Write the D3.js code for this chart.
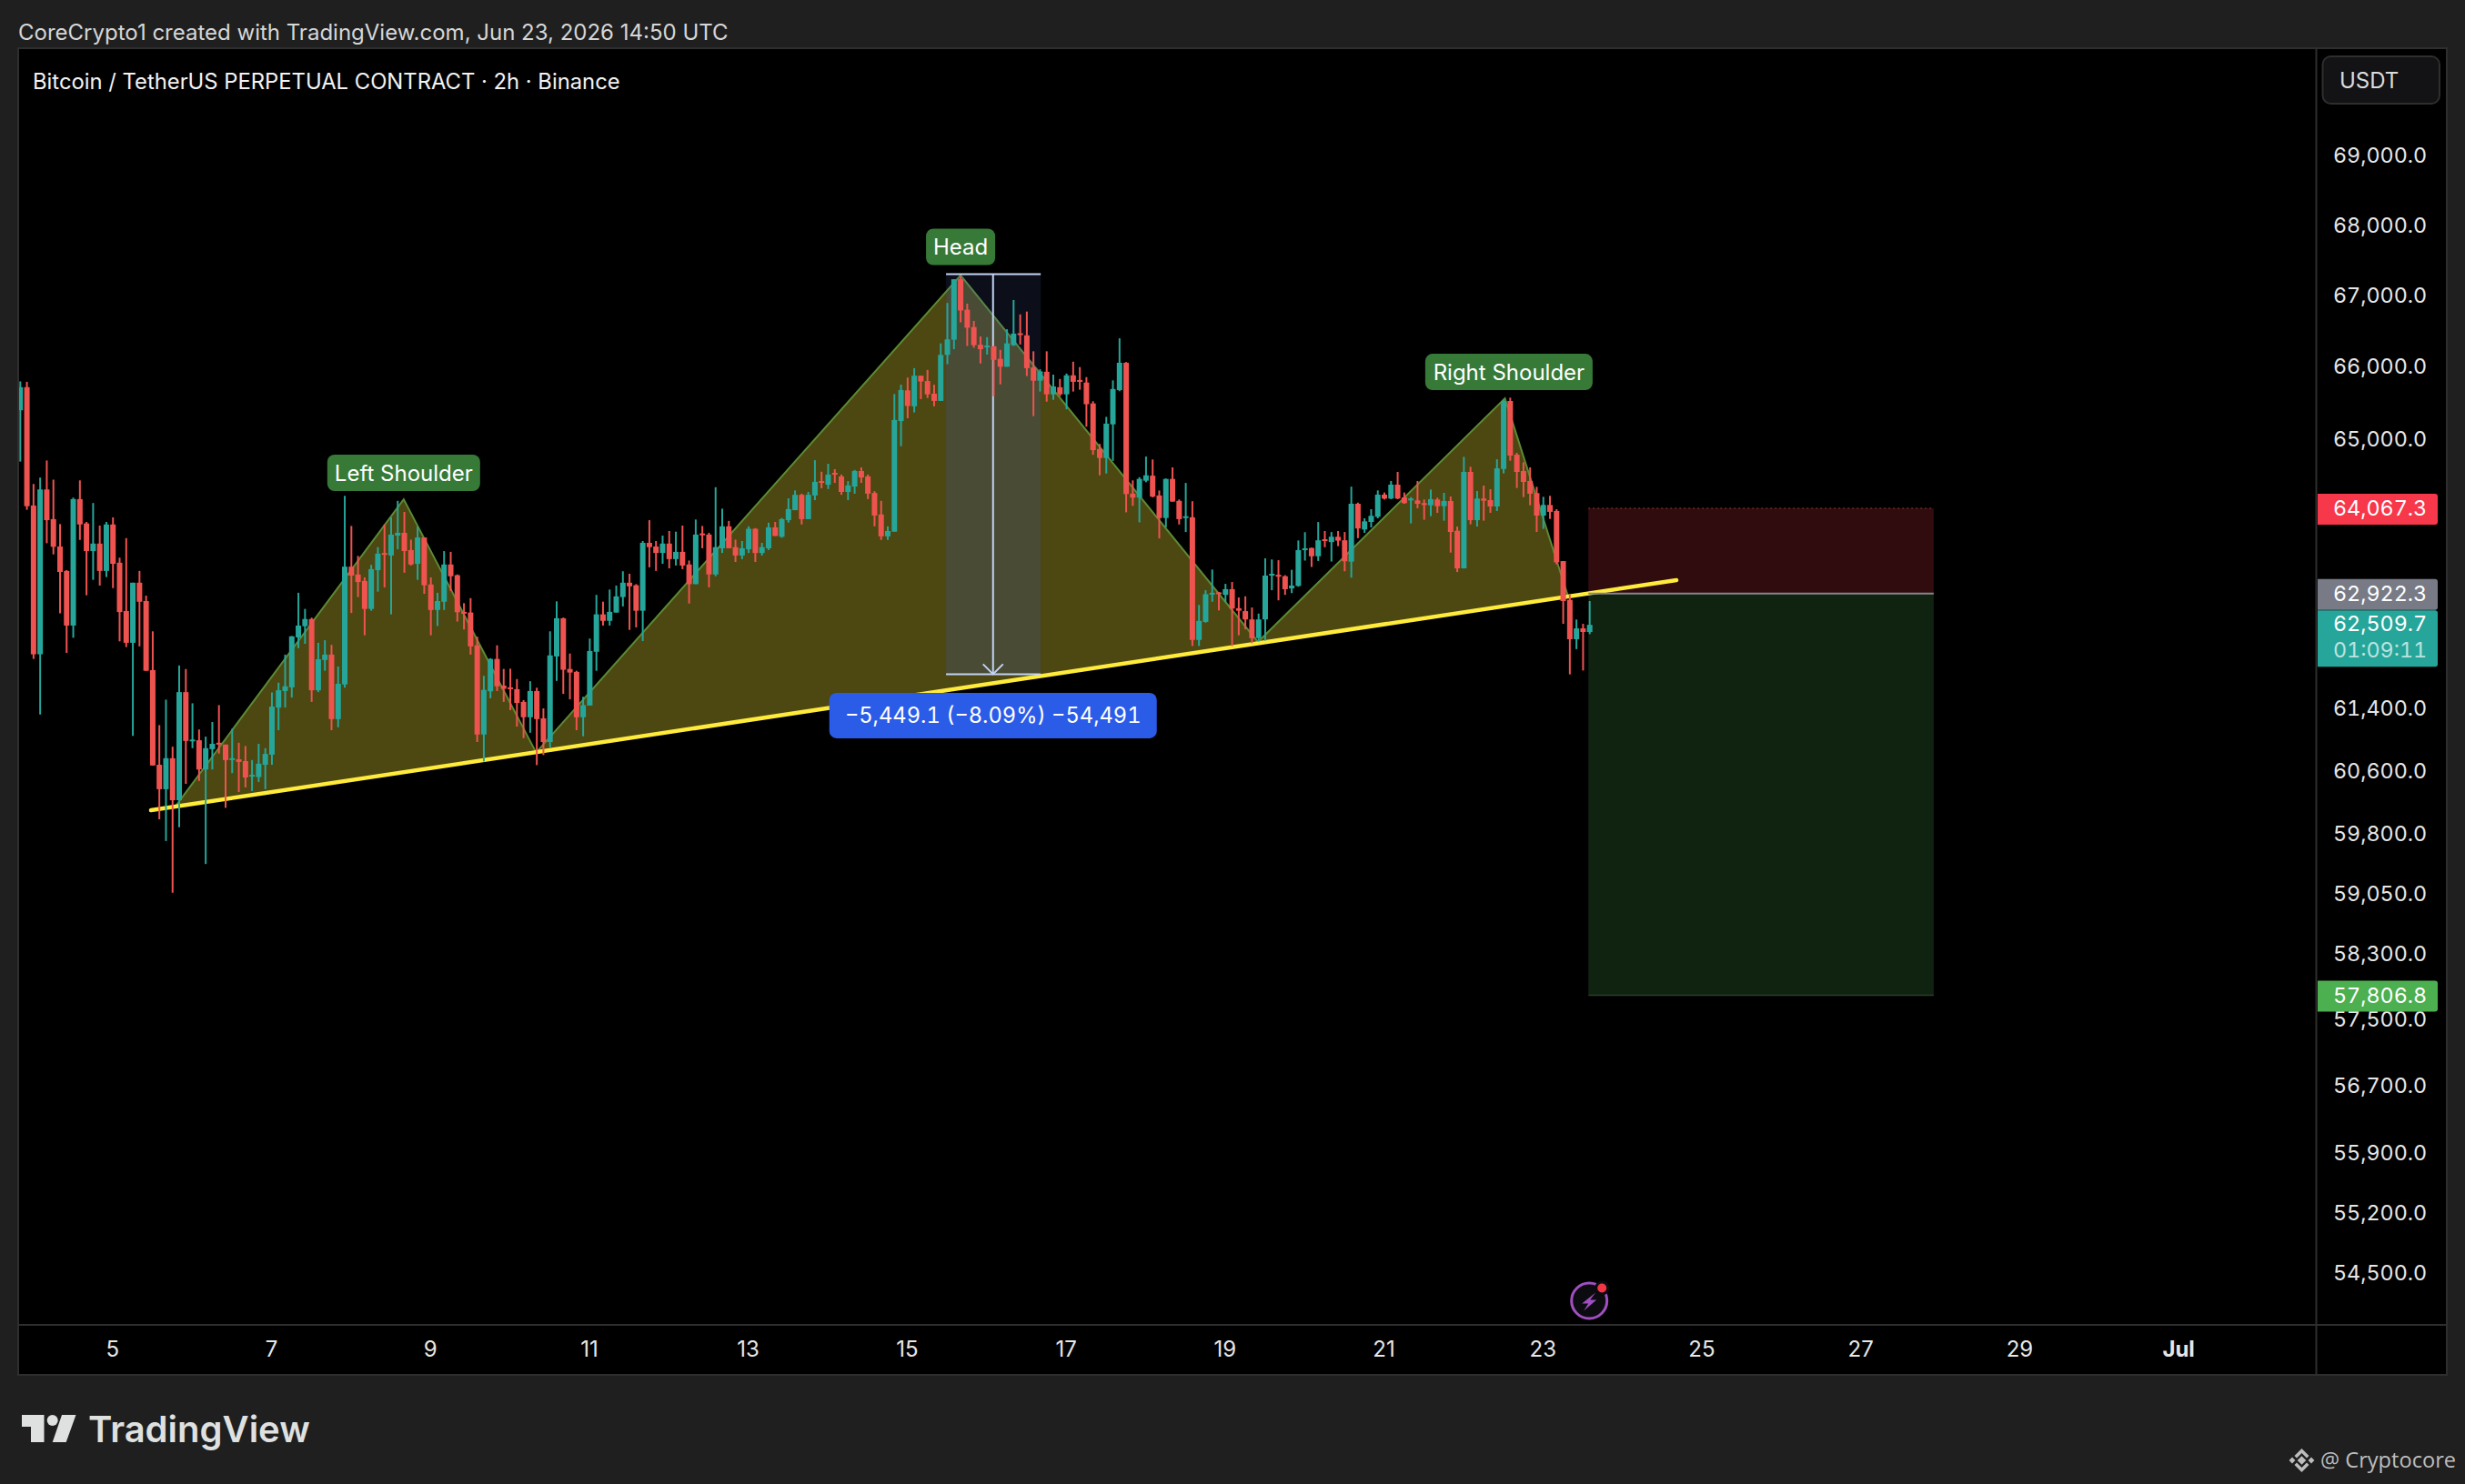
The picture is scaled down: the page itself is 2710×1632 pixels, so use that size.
<!DOCTYPE html>
<html>
<head>
<meta charset="utf-8">
<title>BTCUSDT 2h</title>
<script src="https://cdn.jsdelivr.net/npm/d3@7/dist/d3.min.js"></script>
<style>
  html, body { margin: 0; padding: 0; background: #1f1f1f; }
  svg { display: block; }
  text { font-family: Inter, "Liberation Sans", sans-serif; }
  .tab { font-variant-numeric: tabular-nums; }
  .tab text { font-variant-numeric: tabular-nums; }
</style>
</head>
<body>
<svg id="chart" width="2710" height="1632"></svg>
<script>
// 2h candles, bar 0 = Jun 3 20:00 UTC, bar 237 = Jun 23 14:00 UTC
const opens = [
  65406,65726,64104,62122,64322,63920,63552,63225,62500,64191,
  63862,63490,63591,63225,63848,63335,62692,62273,63068,62824,
  61915,60690,60378,60774,60237,61628,60996,61005,60630,60890,
  60973,60950,60751,60760,60737,60542,60533,60690,60820,61427,
  61642,61690,62344,62491,62586,61652,62047,62118,61278,61728,
  63282,63177,63092,62720,63235,63465,63431,63698,63736,63504,
  63320,63673,63044,62706,62815,63311,63168,62681,62672,62240,
  61079,61638,62061,61713,61690,61666,61501,61302,61642,61288,
  60982,62094,62596,61930,61892,61302,61454,62155,62648,62562,
  62672,62877,63068,63034,62696,63601,63552,63465,63591,63383,
  63480,63311,63049,63727,63712,63178,63528,63823,63543,63431,
  63514,63790,63465,63528,63809,63683,63906,64041,64249,63920,
  64240,64435,64386,64548,64499,64288,64361,64573,64499,64274,
  63983,63688,63751,65257,65681,65461,65885,65810,65635,65535,
  66175,66387,67240,66809,66565,66316,66290,66295,66120,66010,
  66311,66478,66448,66000,65815,65940,65626,65725,65626,65890,
  65825,65790,65500,64873,64750,65212,65685,66065,64264,64211,
  64440,64509,64240,63935,64465,64167,63945,63945,62311,62548,
  62920,62939,62906,62982,62729,62691,62581,62334,62581,63173,
  63173,63154,62992,63025,63503,63532,63421,63649,63611,63683,
  63635,63349,64128,63780,63882,63952,64251,64198,64387,64214,
  64177,64173,64136,64107,64185,64095,64165,63763,63259,64560,
  63907,64198,64177,64091,64600,65534,64795,64572,64437,64272,
  63968,64112,64030,63356,62840,62320,62463,62415
];
const highs = [
  65806,65800,64396,64484,64716,64455,63853,63235,64211,64445,
  63882,64138,63833,63882,63944,63402,63664,63068,63225,62896,
  62424,61200,61530,60922,61976,61929,61483,61144,61052,61241,
  61459,60950,61153,60973,60931,60751,60959,60903,61624,61751,
  62118,62362,62934,62720,62605,62273,62306,62245,61962,64235,
  63828,63426,63139,63306,63543,63848,63944,64167,64017,63644,
  63823,63673,63139,62934,63490,63480,63178,62796,62863,62353,
  61840,62071,62240,61930,61934,61798,61525,61770,61685,61417,
  62424,62820,62605,62132,61906,61567,62329,62906,62816,62977,
  63030,63220,63187,63049,63625,63906,63625,63698,63760,63751,
  63833,63364,63915,63828,63736,64352,64061,63896,63644,63625,
  63823,63799,63601,63872,63882,63935,64201,64308,64264,64288,
  64720,64563,64671,64597,64524,64435,64587,64622,64524,64298,
  64167,63823,65631,65760,65859,65990,65885,65965,65760,66336,
  66905,67240,67281,66895,66651,66433,66423,66300,66245,66534,
  66946,66743,66783,66225,65975,66225,65900,65840,65915,66080,
  66005,65865,65530,64942,65315,65820,66407,66075,64445,64489,
  64770,64730,64307,64470,64622,64186,64410,64162,62773,62968,
  63244,62944,63053,63077,62872,62887,62739,62658,63393,63378,
  63368,63168,63240,63633,63744,63537,63881,63760,63746,63760,
  63746,64360,64143,63931,64054,64309,64280,64437,64560,64280,
  64218,64437,64185,64321,64210,64276,64226,63820,64766,64630,
  64300,64375,64325,64733,65555,65580,64820,64692,64622,64358,
  64222,64235,64054,63356,62908,62580,62523,62824
];
const lows = [
  64701,64046,62061,61339,63596,63446,62662,62141,62339,63640,
  62901,63106,63030,63144,62996,62292,62217,61061,62226,61906,
  60681,59995,59721,59073,59895,60446,60903,60483,59432,60630,
  60834,60141,60584,60341,60401,60355,60469,60378,60690,61135,
  61427,61558,62202,62259,61501,61628,61906,61135,61172,61686,
  62666,62877,62372,62696,62949,63006,62648,63514,63201,63297,
  63106,62920,62372,62495,62706,62958,62553,62448,62118,60982,
  60732,61548,61642,61501,61394,61181,61033,61102,60686,60815,
  60912,61774,61605,61534,61135,61056,61454,61906,62500,62500,
  62672,62753,62443,62476,62296,63273,63225,63320,63259,63297,
  63249,62791,63049,63528,63006,63154,63465,63528,63345,63383,
  63465,63345,63431,63504,63693,63669,63872,64041,63848,63920,
  64177,64337,64327,64411,64249,64177,64264,64411,64191,63823,
  63640,63640,63751,64912,65296,65376,65560,65576,65461,65535,
  66045,66255,66631,66300,66275,66055,66180,65600,65765,66010,
  66300,66321,65880,65325,65665,65525,65550,65600,65420,65665,
  65690,65180,64794,64514,64538,64711,65670,64012,64099,63877,
  64420,64215,63660,63810,64157,63848,63746,62231,62231,62538,
  62815,62700,62810,62231,62372,62453,62268,62287,62301,62968,
  62834,62906,62930,63015,63363,63278,63358,63542,63350,63557,
  63220,63135,63664,63735,63809,63931,64185,64190,64190,64128,
  63862,64067,63911,63960,64005,63899,63470,63210,63259,63850,
  63820,63899,64005,64030,64540,64713,64342,64218,64107,63747,
  63788,63923,63312,62523,61860,62190,61910,62387
];
const closes = [
  65726,64095,62122,64322,63906,63548,63211,62500,64191,63848,
  63490,63591,63225,63848,63320,62678,62273,63068,62815,61906,
  60681,60378,60774,60237,61628,60996,61014,60630,60903,60959,
  60950,60751,60774,60727,60528,60561,60704,60829,61440,61652,
  61704,62358,62500,62586,61652,62057,62118,61278,61737,63282,
  63163,63077,62720,63249,63456,63446,63712,63736,63490,63311,
  63673,63034,62706,62824,63311,63154,62677,62662,62226,61079,
  61657,62061,61704,61671,61671,61487,61302,61642,61278,60982,
  62108,62596,61920,61883,61302,61459,62165,62648,62562,62681,
  62886,63068,63020,62696,63601,63543,63465,63591,63383,63480,
  63297,63049,63712,63712,63178,63543,63823,63528,63431,63528,
  63790,63465,63543,63809,63693,63920,64056,64249,63920,64249,
  64425,64411,64524,64524,64288,64376,64573,64484,64264,63969,
  63688,63760,65272,65686,65466,65885,65805,65626,65535,66175,
  66392,67240,66798,66555,66311,66255,66305,66105,66010,66336,
  66473,66473,65990,65815,65945,65626,65735,65626,65890,65800,
  65805,65490,64858,64750,65222,65700,66065,64259,64211,64465,
  64514,64225,63935,64465,64157,63920,63959,62311,62562,62915,
  62934,62920,62982,62725,62696,62581,62334,62581,63163,63187,
  63154,62982,63030,63503,63527,63421,63635,63626,63683,63630,
  63354,64128,63794,63890,63964,64251,64198,64387,64198,64136,
  64198,64128,64112,64190,64095,64165,63747,63259,64560,63907,
  64198,64169,64091,64609,65534,64783,64560,64424,64264,63968,
  64112,64018,63340,62824,62320,62463,62415,62509.7
];

// axis labels
const priceTicks = [69000,68000,67000,66000,65000,61400,60600,59800,59050,58300,57500,56700,55900,55200,54500];
const dayBars = [14,38,62,86,110,134,158,182,206,230,254,278,302,326];
const dayLabels = ["5","7","9","11","13","15","17","19","21","23","25","27","29","Jul"];

// head and shoulders drawing
const patternBars = [23.3,57.9,77.9,142,186.9,224.2,233.7];
const patternPrices = [60145,64189,60847,67295,62284,65571,62896];
const necklineBars = [19.74,250.1];
const necklinePrices = [60110,63102];
const shoulderLabels = ["Left Shoulder","Head","Right Shoulder"];
const shoulderBars = [57.9,142,224.8];
const shoulderPrices = [64189,67325,65571];

// measure tool
const measureBars = [139.8,146.9,154.1];
const measurePrices = [67311,61862];
const measureText = "\u22125,449.1 (\u22128.09%) \u221254,491";

// short position tool
const positionBars = [236.8,288.95];
const stopPrice = 64067.3;
const entryPrice = 62922.3;
const targetPrice = 57806.8;
const lastPrice = 62509.7;
const countdown = "01:09:11";

const bull = "#26a69a", bear = "#ef5350";
const paneLeft = 20, paneRight = 2546.5, paneTop = 53, paneBottom = 1457, outerRight = 2690, outerBottom = 1512;

const x = d3.scaleLinear().domain([0, 237]).range([22.3, 1747.7]);
const y = d3.scaleLog().domain([54500, 69000]).range([1401.5, 172.5]);
const fmt = d3.format(",.1f");

const svg = d3.select("#chart");

// frame
svg.append("rect").attr("width", 2710).attr("height", 1632).attr("fill", "#1f1f1f");
svg.append("rect").attr("x", paneLeft).attr("y", paneTop)
  .attr("width", outerRight - paneLeft).attr("height", outerBottom - paneTop)
  .attr("fill", "#000").attr("stroke", "#2e2e2e").attr("stroke-width", 2);

svg.append("clipPath").attr("id", "pane").append("rect")
  .attr("x", paneLeft + 1).attr("y", paneTop)
  .attr("width", paneRight - paneLeft - 2).attr("height", paneBottom - paneTop);

const pane = svg.append("g").attr("clip-path", "url(#pane)");

// position boxes
const posX = x(positionBars[0]), posW = x(positionBars[1]) - x(positionBars[0]);
pane.append("rect").attr("x", posX).attr("y", y(stopPrice)).attr("width", posW)
  .attr("height", y(entryPrice) - y(stopPrice)).attr("fill", "#300c0f");
pane.append("line").attr("x1", posX).attr("x2", posX + posW).attr("y1", y(stopPrice)).attr("y2", y(stopPrice))
  .attr("stroke", "#6b2a20").attr("stroke-width", 1.5).attr("stroke-dasharray", "2 3");
pane.append("rect").attr("x", posX).attr("y", y(entryPrice)).attr("width", posW)
  .attr("height", y(targetPrice) - y(entryPrice)).attr("fill", "#102210");
pane.append("line").attr("x1", posX).attr("x2", posX + posW).attr("y1", y(targetPrice)).attr("y2", y(targetPrice))
  .attr("stroke", "#2a3f2a").attr("stroke-width", 1.5);

// measure geometry, used below
const mLeft = x(measureBars[0]), mMid = x(measureBars[1]), mRight = x(measureBars[2]);
const mTop = y(measurePrices[0]), mBottom = y(measurePrices[1]);
svg.append("clipPath").attr("id", "measure").append("rect")
  .attr("x", mLeft).attr("y", mTop).attr("width", mRight - mLeft).attr("height", mBottom - mTop);

// head and shoulders fill
const patternLine = d3.line().x((d, i) => x(patternBars[i])).y(d => y(d));
pane.append("path")
  .attr("d", patternLine(patternPrices) + "Z")
  .attr("fill", "#ffeb3b").attr("fill-opacity", 0.3)
  .attr("stroke", "none");
pane.append("path")
  .attr("d", patternLine(patternPrices))
  .attr("fill", "none").attr("stroke", "#5c8a34").attr("stroke-width", 2);

// neckline
pane.append("line")
  .attr("x1", x(necklineBars[0])).attr("y1", y(necklinePrices[0]))
  .attr("x2", x(necklineBars[1])).attr("y2", y(necklinePrices[1]))
  .attr("stroke", "#ffeb3b").attr("stroke-width", 4.5).attr("stroke-linecap", "round");

// measure
pane.append("rect").attr("x", mLeft).attr("y", mTop).attr("width", mRight - mLeft).attr("height", mBottom - mTop)
  .attr("fill", "rgb(100,120,210)").attr("fill-opacity", 0.12);
// the shade reads greyer where it crosses the pattern fill
pane.append("g").attr("clip-path", "url(#measure)").append("path")
  .attr("d", patternLine(patternPrices) + "Z")
  .attr("fill", "rgb(30,56,160)").attr("fill-opacity", 0.1);
const measureStroke = "#c3d4f5";
[mTop, mBottom].forEach(v => {
  pane.append("line").attr("x1", mLeft).attr("x2", mRight).attr("y1", v).attr("y2", v)
    .attr("stroke", measureStroke).attr("stroke-width", 2);
});
pane.append("line").attr("x1", mMid).attr("x2", mMid).attr("y1", mTop).attr("y2", mBottom)
  .attr("stroke", measureStroke).attr("stroke-width", 2);
pane.append("path")
  .attr("d", `M${mMid - 11},${mBottom - 11}L${mMid},${mBottom}L${mMid + 11},${mBottom - 11}`)
  .attr("fill", "none").attr("stroke", measureStroke).attr("stroke-width", 2);

// candles
const candles = pane.append("g");
const bars = d3.range(opens.length);
candles.selectAll(".wick").data(bars).join("line")
  .attr("class", "wick")
  .attr("x1", i => x(i)).attr("x2", i => x(i))
  .attr("y1", i => y(highs[i])).attr("y2", i => y(lows[i]))
  .attr("stroke", i => closes[i] >= opens[i] ? bull : bear)
  .attr("stroke-width", 2);
candles.selectAll(".body").data(bars).join("rect")
  .attr("class", "body")
  .attr("x", i => x(i) - 3)
  .attr("width", 6)
  .attr("y", i => y(Math.max(opens[i], closes[i])))
  .attr("height", i => Math.max(2, Math.abs(y(opens[i]) - y(closes[i]))))
  .attr("fill", i => closes[i] >= opens[i] ? bull : bear);

// entry line sits over the boxes
pane.append("line").attr("x1", posX).attr("x2", posX + posW).attr("y1", y(entryPrice)).attr("y2", y(entryPrice))
  .attr("stroke", "#86868e").attr("stroke-width", 2);

// measure label
pane.append("rect").attr("x", mMid - 180).attr("y", mBottom + 20.5).attr("width", 360).attr("height", 50).attr("rx", 8)
  .attr("fill", "#2a5ce8");
pane.append("text").attr("class", "tab").attr("x", mMid).attr("y", mBottom + 45)
  .attr("text-anchor", "middle").attr("dominant-baseline", "central")
  .attr("font-size", 23.7).attr("fill", "#fff").text(measureText);

// pattern labels
const labelWidths = [168, 76, 184];
shoulderLabels.forEach((name, i) => {
  const cx = x(shoulderBars[i]), bottom = y(shoulderPrices[i]) - 9;
  pane.append("rect").attr("x", cx - labelWidths[i] / 2).attr("y", bottom - 40)
    .attr("width", labelWidths[i]).attr("height", 40).attr("rx", 8).attr("fill", "#377a38");
  pane.append("text").attr("x", cx).attr("y", bottom - 20)
    .attr("text-anchor", "middle").attr("dominant-baseline", "central")
    .attr("font-size", 24).attr("fill", "#fff").text(name);
});

// lightning badge
const badge = svg.append("g").attr("transform", `translate(${x(237) - 0.5},1430.5)`);
badge.append("circle").attr("r", 19.5).attr("fill", "#0c0c10").attr("stroke", "#a04fc0").attr("stroke-width", 3);
badge.append("path").attr("d", "M7,-9L-8,3H-1L-6,11L8,-1H1Z").attr("fill", "#a04fc0");
badge.append("circle").attr("cx", 14).attr("cy", -14).attr("r", 8).attr("fill", "#0c0c10");
badge.append("circle").attr("cx", 14).attr("cy", -14).attr("r", 5).attr("fill", "#f23645");

// axis separators
svg.append("line").attr("x1", paneRight).attr("x2", paneRight).attr("y1", paneTop).attr("y2", outerBottom)
  .attr("stroke", "#2e2e2e").attr("stroke-width", 2);
svg.append("line").attr("x1", paneLeft).attr("x2", outerRight).attr("y1", paneBottom).attr("y2", paneBottom)
  .attr("stroke", "#2e2e2e").attr("stroke-width", 2);

// price axis
const yAxis = svg.append("g").attr("class", "tab").attr("transform", "translate(2565,-1)")
  .call(d3.axisRight(y).tickValues(priceTicks).tickSize(0).tickPadding(0).tickFormat(fmt));
yAxis.select(".domain").remove();
yAxis.selectAll("text").attr("fill", "#e6e6e6").attr("font-size", 23.3);

// time axis
const xAxis = svg.append("g").attr("transform", "translate(-1,1475)")
  .call(d3.axisBottom(x).tickValues(dayBars).tickSize(0).tickPadding(0).tickFormat((d, i) => dayLabels[i]));
xAxis.select(".domain").remove();
xAxis.selectAll("text").attr("fill", "#e6e6e6").attr("font-size", 24)
  .attr("font-weight", (d, i) => dayLabels[i] === "Jul" ? 700 : 400);

// price tags
function priceTag(value, color) {
  const cy = y(value) + 1;
  svg.append("path")
    .attr("d", `M2548,${cy - 17}H2677a3,3 0 0 1 3,3V${cy + 14}a3,3 0 0 1 -3,3H2548Z`)
    .attr("fill", color);
  svg.append("text").attr("class", "tab").attr("x", 2565).attr("y", cy - 1.5).attr("dominant-baseline", "central")
    .attr("font-size", 23.3).attr("fill", "#fff").text(fmt(value));
}
priceTag(stopPrice, "#f7374a");
priceTag(entryPrice, "#787b86");
priceTag(targetPrice, "#4caf50");
const lastY = y(lastPrice);
svg.append("path")
  .attr("d", `M2548,${lastY - 16}H2677a3,3 0 0 1 3,3V${lastY + 43}a3,3 0 0 1 -3,3H2548Z`)
  .attr("fill", bull);
svg.append("text").attr("class", "tab").attr("x", 2565).attr("y", lastY - 1.5).attr("dominant-baseline", "central")
  .attr("font-size", 23.3).attr("fill", "#fff").text(fmt(lastPrice));
svg.append("text").attr("class", "tab").attr("x", 2565).attr("y", lastY + 27).attr("dominant-baseline", "central")
  .attr("font-size", 23.3).attr("fill", "#fff").attr("fill-opacity", 0.7).text(countdown);

// currency box
svg.append("rect").attr("x", 2553.5).attr("y", 62).attr("width", 128.5).attr("height", 52).attr("rx", 9)
  .attr("fill", "#131316").attr("stroke", "#2e2e2e").attr("stroke-width", 2);
svg.append("text").attr("x", 2572).attr("y", 88).attr("dominant-baseline", "central")
  .attr("font-size", 24).attr("fill", "#dcdcdc").text("USDT");

// header and title
svg.append("text").attr("x", 20).attr("y", 35).attr("dominant-baseline", "central")
  .attr("font-size", 24).attr("fill", "#d6d6d6")
  .text("CoreCrypto1 created with TradingView.com, Jun 23, 2026 14:50 UTC");
svg.append("text").attr("x", 36).attr("y", 89.5).attr("dominant-baseline", "central")
  .attr("font-size", 23.8).attr("fill", "#f2f2f2")
  .text("Bitcoin / TetherUS PERPETUAL CONTRACT \u00b7 2h \u00b7 Binance");

// TradingView mark
const logo = svg.append("g").attr("fill", "#dfe0e0");
logo.append("path").attr("d", "M24,1556H48.5V1586H34V1569H24Z");
logo.append("circle").attr("cx", 57.7).attr("cy", 1562).attr("r", 6);
logo.append("path").attr("d", "M68,1556H83.5L72.7,1586H57.7Z");
svg.append("text").attr("x", 97).attr("y", 1586)
  .attr("font-size", 40).attr("font-weight", 600).attr("fill", "#dfe0e0").text("TradingView");

// author mark
const coin = svg.append("g").attr("transform", "translate(2530.5,1606)").attr("fill", "#bdbdbd");
[[0, 0, 3.4], [-10.5, 0, 2.4], [10.5, 0, 2.4]].forEach(d => {
  coin.append("rect").attr("x", d[0] - d[2]).attr("y", d[1] - d[2]).attr("width", d[2] * 2).attr("height", d[2] * 2)
    .attr("transform", `rotate(45 ${d[0]} ${d[1]})`);
});
coin.append("path").attr("d", "M0,-13L8,-5L5.5,-2.5L0,-8L-5.5,-2.5L-8,-5Z");
coin.append("path").attr("d", "M0,13L8,5L5.5,2.5L0,8L-5.5,2.5L-8,5Z");
svg.append("text").attr("x", 2551).attr("y", 1605).attr("dominant-baseline", "central")
  .style("font-family", '"Open Sans"').attr("font-size", 23.6).attr("fill", "#bdbdbd").text("@ Cryptocore");
</script>
</body>
</html>
